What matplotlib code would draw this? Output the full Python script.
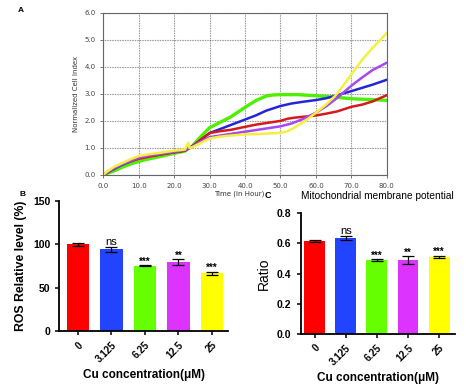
import numpy as np
import matplotlib.pyplot as plt

plt.rcParams["font.family"] = ["Liberation Sans", "DejaVu Sans"]

# ── Panel A: real-time cell index curves ────────────────────────────────
t_red = [0, 1, 3, 5, 8, 10, 13, 16, 20, 23, 24, 25, 27, 30, 33, 36, 40, 43, 46, 50, 52, 54, 57, 60, 63, 66, 70, 73, 76, 80]
ci_red = [0, 0.08, 0.25, 0.38, 0.52, 0.6, 0.68, 0.75, 0.84, 0.9, 0.98, 1.05, 1.25, 1.55, 1.62, 1.67, 1.78, 1.86, 1.92, 2.0, 2.08, 2.12, 2.16, 2.2, 2.27, 2.35, 2.52, 2.6, 2.72, 2.95]
t_blue = [0, 1, 3, 5, 8, 10, 13, 16, 20, 23, 24, 25, 27, 30, 33, 36, 40, 43, 46, 50, 53, 56, 60, 63, 66, 70, 73, 76, 80]
ci_blue = [0, 0.08, 0.22, 0.36, 0.52, 0.62, 0.7, 0.76, 0.84, 0.9, 0.98, 1.05, 1.25, 1.55, 1.7, 1.85, 2.05, 2.2, 2.38, 2.55, 2.64, 2.7, 2.77, 2.84, 2.95, 3.1, 3.22, 3.34, 3.52]
t_green = [0, 1, 3, 5, 8, 10, 13, 16, 20, 23, 24, 25, 27, 30, 33, 36, 40, 43, 46, 48, 50, 55, 60, 63, 66, 70, 75, 80]
ci_green = [0, 0.05, 0.15, 0.27, 0.42, 0.5, 0.6, 0.68, 0.8, 0.88, 0.98, 1.05, 1.35, 1.75, 1.95, 2.15, 2.5, 2.75, 2.92, 2.96, 2.97, 2.97, 2.93, 2.9, 2.87, 2.82, 2.79, 2.76]
t_mag = [0, 1, 3, 5, 8, 10, 13, 16, 20, 23, 24, 25, 27, 30, 33, 36, 40, 43, 46, 50, 53, 56, 60, 63, 66, 70, 73, 76, 80]
ci_mag = [0, 0.1, 0.25, 0.38, 0.54, 0.64, 0.72, 0.78, 0.86, 0.92, 0.98, 1.03, 1.2, 1.4, 1.46, 1.52, 1.6, 1.66, 1.72, 1.8, 1.9, 2.05, 2.3, 2.55, 2.85, 3.3, 3.6, 3.88, 4.15]
t_yel = [0, 1, 3, 5, 8, 10, 13, 16, 20, 23, 24, 24.3, 25, 27, 30, 33, 36, 40, 43, 46, 50, 52, 54, 57, 60, 63, 66, 70, 73, 76, 80]
ci_yel = [0, 0.12, 0.3, 0.42, 0.6, 0.7, 0.77, 0.82, 0.9, 0.94, 1.2, 1.0, 1.02, 1.15, 1.35, 1.42, 1.46, 1.5, 1.51, 1.53, 1.56, 1.62, 1.75, 2.0, 2.3, 2.62, 3.0, 3.72, 4.25, 4.7, 5.25]

# ── Panel B / C: bar data ───────────────────────────────────────────────
conc_labels = ["0", "3.125", "6.25", "12.5", "25"]
ros_mean = [100, 94, 75.5, 79.5, 66.5]
ros_err = [1.5, 2.5, 0.8, 3.0, 2.0]
ros_sig = ["", "ns", "***", "**", "***"]
mmp_mean = [0.618, 0.636, 0.49, 0.49, 0.512]
mmp_err = [0.006, 0.012, 0.005, 0.025, 0.008]
mmp_sig = ["", "ns", "***", "**", "***"]

line_colors = ["#d41a1a", "#2424d8", "#4cf000", "#a846f0", "#f4f040"]
bar_colors = ["#ff0000", "#2244ff", "#66ff00", "#dd33ff", "#ffff00"]

fig = plt.figure(figsize=(4.74, 3.85), dpi=100)

# ── Panel A ─────────────────────────────────────────────────────────────
ax = fig.add_axes([0.218, 0.5455, 0.598, 0.4215])
series = [(t_red, ci_red), (t_blue, ci_blue), (t_green, ci_green),
          (t_mag, ci_mag), (t_yel, ci_yel)]
order = [2, 1, 0, 3, 4]
for i in order:
    t, ci = series[i]
    ax.plot(t, ci, color=line_colors[i], lw=1.8 if i != 2 else 2.4,
            solid_capstyle="round")
ax.set_xlim(0, 80)
ax.set_ylim(0, 6)
ax.set_xticks(np.arange(0, 81, 10))
ax.set_yticks(np.arange(0, 6.1, 1))
ax.set_xticklabels([f"{v:.1f}" for v in np.arange(0, 81, 10)])
ax.set_yticklabels([f"{v:.1f}" for v in np.arange(0, 6.1, 1)])
ax.tick_params(labelsize=5, colors="#444444", length=2, width=0.5)
ax.grid(True, color="#666666", linestyle=(0, (0.6, 0.9)), linewidth=0.8)
for s in ax.spines.values():
    s.set_linestyle((0, (0.6, 0.9)))
    s.set_color("#666666")
    s.set_linewidth(0.8)
ax.set_ylabel("Normalized Cell Index", fontsize=5, color="#333333",
              family=["DejaVu Sans"], labelpad=4)
ax.text(0.48, -0.115, "Time (in Hour)", transform=ax.transAxes, fontsize=5,
        color="#333333", ha="center", va="center", family=["DejaVu Sans"])
for lab in ax.get_xticklabels() + ax.get_yticklabels():
    lab.set_family(["DejaVu Sans"])


def bar_panel(rect, means, errs, sigs, ylim, yticks, ylabel, ybold, xlim):
    ax = fig.add_axes(rect)
    x = np.arange(len(means))
    ax.bar(x, means, width=0.67, color=bar_colors)
    ax.errorbar(x, means, yerr=errs, fmt="none", ecolor="black",
                capsize=4, elinewidth=0.9, capthick=0.9)
    span = ylim[1] - ylim[0]
    for xi, m, e, s in zip(x, means, errs, sigs):
        if s == "ns":
            ax.text(xi, m + e + span * 0.005, s, ha="center", va="bottom",
                    fontsize=8)
        elif s:
            ax.text(xi, m + e - span * 0.012, s, ha="center", va="bottom",
                    fontsize=7, fontweight="bold")
    ax.set_xlim(*xlim)
    ax.set_ylim(*ylim)
    ax.set_yticks(yticks)
    ax.set_xticks(x)
    ax.set_xticklabels(conc_labels, rotation=45, ha="right",
                       rotation_mode="anchor", fontweight="bold", fontsize=7)
    for lab in ax.get_yticklabels():
        lab.set_fontweight("bold")
        lab.set_fontsize(7.5)
    ax.spines["top"].set_visible(False)
    ax.spines["right"].set_visible(False)
    ax.spines["left"].set_linewidth(1.3)
    ax.spines["bottom"].set_linewidth(1.3)
    ax.tick_params(length=3, width=1.1)
    ax.set_ylabel(ylabel, fontsize=8.8 if ybold else 10,
                  fontweight="bold" if ybold else "normal", labelpad=4)
    ax.set_xlabel("Cu concentration(\u03bcM)", fontsize=8.5,
                  fontweight="bold", labelpad=3)
    return ax


bar_panel([0.125, 0.140, 0.356, 0.3385], ros_mean, ros_err, ros_sig,
          (0, 150), [0, 50, 100, 150], "ROS Relative level (%)", True,
          (-0.56, 4.48))
axc = bar_panel([0.634, 0.1325, 0.326, 0.3135], mmp_mean, mmp_err, mmp_sig,
                (0, 0.8), [0.0, 0.2, 0.4, 0.6, 0.8], "Ratio", False,
                (-0.45, 4.51))
axc.set_yticklabels(["0.0", "0.2", "0.4", "0.6", "0.8"])
axc.set_title("Mitochondrial membrane potential", fontsize=7.3, pad=10)

fig.text(18 / 474, 1 - 10 / 385, "A", fontsize=6, fontweight="bold",
         ha="left", va="center")
fig.text(20 / 474, 1 - 195 / 385, "B", fontsize=6, fontweight="bold",
         ha="left", va="center")
fig.text(265 / 474, 1 - 196 / 385, "C", fontsize=6.5, fontweight="bold",
         ha="left", va="center")

fig.savefig("out.png", dpi=100)
